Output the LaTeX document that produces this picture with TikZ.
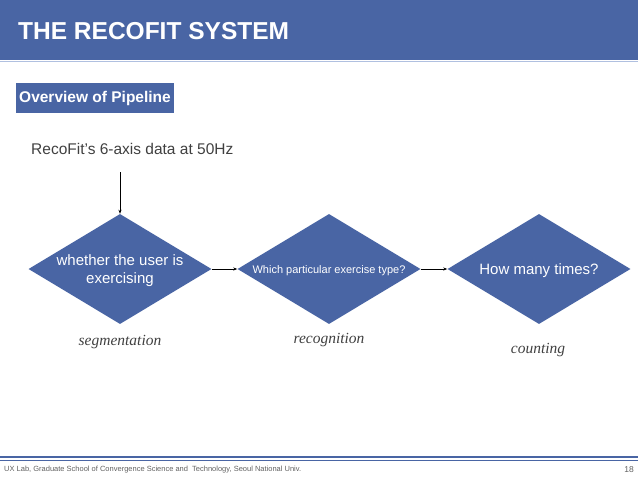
\documentclass[tikz,border=0pt]{standalone}
\usepackage{fontspec}
\setmainfont{Liberation Sans}
\newfontfamily\phaseserif{Liberation Serif}
\usetikzlibrary{shapes.geometric, arrows.meta}
\usepackage{xcolor}
\definecolor{headerblue}{RGB}{73, 101, 164}
\definecolor{ruleblue}{RGB}{176, 192, 224}
\definecolor{textgray}{RGB}{64, 64, 64}
\definecolor{footgray}{RGB}{96, 96, 96}

\begin{document}
\begin{tikzpicture}[
    x=1pt, y=-1pt,
    stage/.style={diamond, fill=headerblue, minimum width=183pt, minimum height=110pt, inner sep=0pt},
    stagetext/.style={text=white, align=center, inner sep=0pt, yshift=-2pt, font=\fontsize{15pt}{18pt}\selectfont},
    phase/.style={text=textgray, inner sep=0pt, font=\fontsize{15.5pt}{18pt}\selectfont\phaseserif\itshape},
    arrow/.style={-{Stealth[length=4pt, width=3pt]}, line width=0.8pt, color=black},
]
\useasboundingbox (0,0) rectangle (638,479);

% Header band
\fill[headerblue] (0,0) rectangle (638,60);
\draw[ruleblue, line width=1pt] (0,61) -- (638,61);
\node[anchor=base west, text=white, inner sep=0pt, font=\fontsize{24.5pt}{28pt}\selectfont\bfseries] (title) at (18,39) {THE RECOFIT SYSTEM};

% Section tag
\node[fill=headerblue, text=white, minimum width=158pt, minimum height=30pt, inner sep=0pt, font=\fontsize{15.5pt}{18pt}\selectfont\bfseries] (overview) at (95,98) {Overview of Pipeline};

% Input data
\node[anchor=base west, text=textgray, inner sep=0pt, font=\fontsize{15.5pt}{18pt}\selectfont] (input) at (31,154) {RecoFit's 6-axis data at 50Hz};
\coordinate (datain) at (120,172);

% Pipeline stages
\node[stage] (seg) at (120,269) {};
\node[stagetext] (segtext) at (seg) {whether the user is\\exercising};

\node[stage] (rec) at (329,269) {};
\node[stagetext, font=\fontsize{11pt}{13pt}\selectfont] (rectext) at (rec) {Which particular exercise type?};

\node[stage] (cnt) at (539,269) {};
\node[stagetext] (cnttext) at (cnt) {How many times?};

\draw[arrow] (datain) -- (seg.north);
\draw[arrow] (seg.east) -- (rec.west);
\draw[arrow] (rec.east) -- (cnt.west);

% Phase names
\node[phase] (segname) at (120,342) {segmentation};
\node[phase] (recname) at (329,340) {recognition};
\node[phase] (cntname) at (538,350) {counting};

% Footer
\draw[headerblue, line width=1.8pt] (0,457) -- (638,457);
\draw[headerblue, line width=0.8pt] (0,460.5) -- (638,460.5);
\node[anchor=west, text=footgray, inner sep=0pt, font=\fontsize{7.5pt}{9pt}\selectfont] (footer) at (4,469.5) {UX Lab, Graduate School of Convergence Science and \ Technology, Seoul National Univ.};
\node[anchor=east, text=footgray, inner sep=0pt, font=\fontsize{8.5pt}{10pt}\selectfont] (pageno) at (634,469.5) {18};

\end{tikzpicture}
\end{document}
